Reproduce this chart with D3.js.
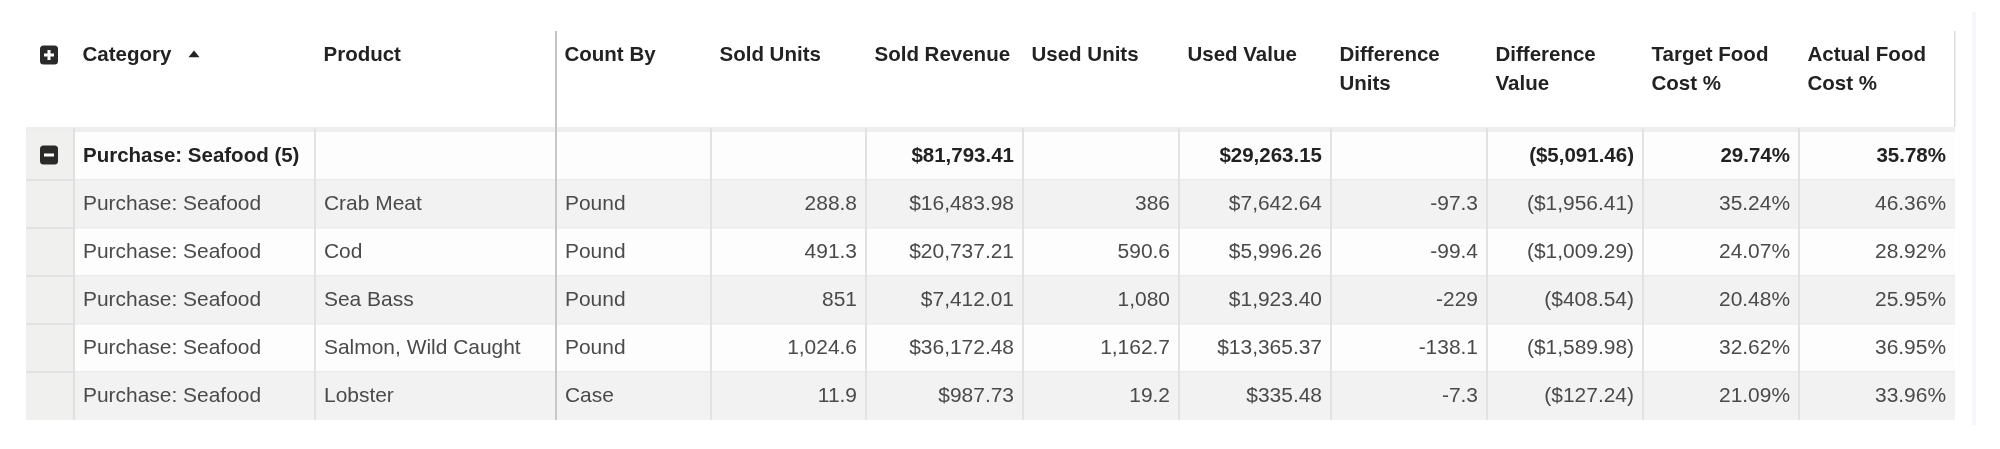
<!DOCTYPE html>
<html><head><meta charset="utf-8">
<script src="https://cdnjs.cloudflare.com/ajax/libs/d3/7.8.5/d3.min.js"></script>
<style>html,body{margin:0;background:#fff}svg{display:block;filter:blur(0.5px)}text{font-family:"Liberation Sans",Arial,sans-serif;font-size:20.95px}</style>
</head><body><svg id="c" width="2000" height="449"></svg>
<script>
const columns = ["Category","Product","Count By","Sold Units","Sold Revenue","Used Units","Used Value","Difference Units","Difference Value","Target Food Cost %","Actual Food Cost %"];
const headerLines = [["Category"],["Product"],["Count By"],["Sold Units"],["Sold Revenue"],["Used Units"],["Used Value"],["Difference","Units"],["Difference","Value"],["Target Food","Cost %"],["Actual Food","Cost %"]];
const totalRow = ["Purchase: Seafood (5)","","","","$81,793.41","","$29,263.15","","($5,091.46)","29.74%","35.78%"];
const categories = ["Purchase: Seafood","Purchase: Seafood","Purchase: Seafood","Purchase: Seafood","Purchase: Seafood"];
const products = ["Crab Meat","Cod","Sea Bass","Salmon, Wild Caught","Lobster"];
const countBy = ["Pound","Pound","Pound","Pound","Case"];
const soldUnits = ["288.8","491.3","851","1,024.6","11.9"];
const soldRevenue = ["$16,483.98","$20,737.21","$7,412.01","$36,172.48","$987.73"];
const usedUnits = ["386","590.6","1,080","1,162.7","19.2"];
const usedValue = ["$7,642.64","$5,996.26","$1,923.40","$13,365.37","$335.48"];
const diffUnits = ["-97.3","-99.4","-229","-138.1","-7.3"];
const diffValue = ["($1,956.41)","($1,009.29)","($408.54)","($1,589.98)","($127.24)"];
const targetCost = ["35.24%","24.07%","20.48%","32.62%","21.09%"];
const actualCost = ["46.36%","28.92%","25.95%","36.95%","33.96%"];
const seriesCols = [categories,products,countBy,soldUnits,soldRevenue,usedUnits,usedValue,diffUnits,diffValue,targetCost,actualCost];
const rows = [totalRow, ...products.map((_,i)=>seriesCols.map(s=>s[i]))];

const svg = d3.select("#c");
const edges = [74,315,556,711,866,1023,1179,1331,1487,1643,1799];
const left = d3.scaleOrdinal(columns, edges);
const right = d3.scaleOrdinal(columns, [...edges.slice(1),1955]);
const y = d3.scaleBand(d3.range(rows.length), [132,420]);
const isText = c => columns.indexOf(c) < 3;

// far-right hairline
svg.append("rect").attr("x",1972).attr("y",12).attr("width",4).attr("height",413).attr("fill","#f6f7fa");
// rows
svg.selectAll(".row").data(rows).join("rect").attr("x",74).attr("width",1881)
  .attr("y",(d,i)=>y(i)).attr("height",y.bandwidth())
  .attr("fill",(d,i)=> i%2? "#f2f2f2":"#fdfdfd");
// gutter
svg.append("rect").attr("x",26).attr("y",132).attr("width",48).attr("height",288).attr("fill","#f0f0ef");
// row separators
svg.selectAll(".sep").data(d3.range(1,rows.length)).join("rect").attr("x",74).attr("width",1881)
  .attr("y",i=>y(i)-1).attr("height",1.5).attr("fill","#ececec");
svg.selectAll(".gsep").data(d3.range(1,rows.length)).join("rect").attr("x",26).attr("width",48)
  .attr("y",i=>y(i)-1).attr("height",2).attr("fill","#e2e2e2");
// header band
svg.append("rect").attr("x",26).attr("y",127).attr("width",1929).attr("height",5).attr("fill","#eeeeee");
svg.append("rect").attr("x",1954).attr("y",31).attr("width",1.5).attr("height",96).attr("fill","#dddddd");
// column lines
svg.append("rect").attr("x",73).attr("y",128).attr("width",2).attr("height",292).attr("fill","#e0e0e0");
svg.selectAll(".v").data(columns.slice(1)).join("rect").attr("x",c=>left(c)-1).attr("y",128).attr("width",2).attr("height",292)
  .attr("fill",c=>c==="Count By"?"#c8c8c8":"#e2e2e2");
svg.append("rect").attr("x",555).attr("y",31).attr("width",2).attr("height",97).attr("fill","#c4c4c4");

// header
const hdr = svg.selectAll(".h").data(columns).join("text")
  .attr("fill","#222").style("font-weight","bold").style("font-size","20.5px");
hdr.each(function(c,i){
  const t=d3.select(this);
  headerLines[i].forEach((l,k)=>t.append("tspan").attr("x",left(c)+8.5).attr("y",61+k*29).text(l));
});
// sort arrow
svg.append("path").attr("d",d3.symbol(d3.symbolTriangle,48)).attr("transform","translate(194,55) scale(1.05,0.75)").attr("fill","#222");

// cells
rows.forEach((r,i)=>{
  svg.selectAll(".cell"+i).data(columns).join("text")
    .attr("x",c=>isText(c)?left(c)+9:right(c)-9)
    .attr("y",y(i)+y.bandwidth()/2+(i===0?6:5.5))
    .attr("text-anchor",c=>isText(c)?"start":"end")
    .attr("fill",i===0?"#222":"#4a4a4a")
    .style("font-weight",i===0?"bold":"normal")
    .style("font-size",i===0?"20.5px":null)
    .text((c,j)=>r[j]);
});
// +/- buttons
function btn(cy,plus){
  svg.append("rect").attr("x",40).attr("y",cy-9.5).attr("width",18).attr("height",19).attr("rx",3.5).attr("fill","#2a2a2a");
  svg.append("rect").attr("x",44).attr("y",cy-1.5).attr("width",10).attr("height",3).attr("fill","#fff");
  if(plus) svg.append("rect").attr("x",47.5).attr("y",cy-5).attr("width",3).attr("height",10).attr("fill","#fff");
}
btn(55,true);btn(155,false);
</script></body></html>
